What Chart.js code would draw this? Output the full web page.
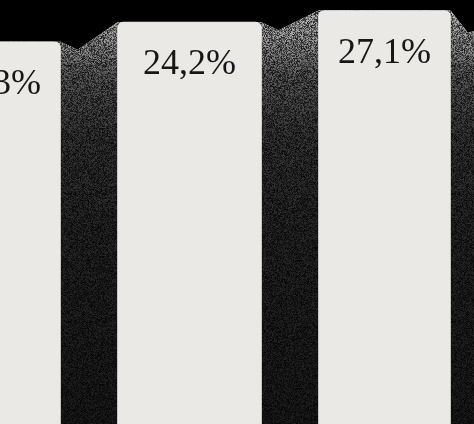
<!DOCTYPE html>
<html lang="pt-BR">
<head>
    <meta charset="UTF-8">
    <title>Gráfico de barras</title>
    <style>
        html, body { margin: 0; padding: 0; background: #000; overflow: hidden; width: 474px; height: 424px; }
        /* the picture is a crop: the chart is wider than the window and shifted left */
        #wrap { position: absolute; left: -103px; top: 0; width: 585px; height: 424px; }
    </style>
</head>
<body>
    <div id="wrap"><canvas id="barChart"></canvas></div>

    <script src="https://cdn.jsdelivr.net/npm/chart.js"></script>
    <script>
        // Dados
        const categories = ['1', '2', '3'];
        const values = [19.3, 24.2, 27.1];

        // Aparência
        const barWidths = [132, 144, 132];
        const Y_MIN = -76.25;
        const Y_MAX = 29.75;
        const barColor = '#ebe9e6';

        function fmt(v) {
            return v.toFixed(1).replace('.', ',') + '%';
        }

        // textura de ruído (determinística)
        function makeNoise() {
            const c = document.createElement('canvas');
            c.width = 128; c.height = 128;
            const g = c.getContext('2d');
            const img = g.createImageData(128, 128);
            let s = 12345;
            for (let i = 0; i < img.data.length; i += 4) {
                s = (s * 1103515245 + 12345) & 0x7fffffff;
                const n = 40 + (s >> 8) % 216;
                img.data[i] = img.data[i + 1] = img.data[i + 2] = n;
                img.data[i + 3] = 255;
            }
            g.putImageData(img, 0, 0);
            return c;
        }
        const noise = makeNoise();

        // brilho granulado entre as barras
        const glowPlugin = {
            id: 'glow',
            beforeDatasetsDraw(chart) {
                const ctx = chart.ctx;
                const area = chart.chartArea;
                const bars = [];
                chart.data.datasets.forEach((ds, i) => {
                    chart.getDatasetMeta(i).data.forEach((el, j) => {
                        if (ds.data[j] !== null) {
                            bars.push(el.getProps(['x', 'y', 'width'], true));
                        }
                    });
                });
                bars.sort((a, b) => a.x - b.x);

                ctx.save();
                ctx.beginPath();
                ctx.moveTo(area.left, area.bottom);
                bars.forEach((b, i) => {
                    const l = b.x - b.width / 2, r = b.x + b.width / 2;
                    ctx.lineTo(l, b.y);
                    ctx.lineTo(r, b.y);
                    const next = bars[i + 1];
                    const nl = next ? next.x - next.width / 2 : r + 57;
                    const ny = next ? next.y : b.y + 14;
                    ctx.lineTo(r + (nl - r) * 0.3, Math.max(b.y, ny) + 8);
                    ctx.lineTo(nl, ny);
                });
                ctx.lineTo(area.right, area.bottom);
                ctx.closePath();
                ctx.clip();

                const grad = ctx.createLinearGradient(0, area.top, 0, area.bottom);
                grad.addColorStop(0, '#d0d0d0');
                grad.addColorStop(0.08, '#b4b4b4');
                grad.addColorStop(0.18, '#646464');
                grad.addColorStop(0.32, '#3c3c3c');
                grad.addColorStop(0.55, '#2a2a2a');
                grad.addColorStop(1, '#1e1e1e');
                ctx.fillStyle = grad;
                ctx.fillRect(area.left, area.top, area.right - area.left, area.bottom - area.top);

                ctx.globalCompositeOperation = 'multiply';
                ctx.fillStyle = ctx.createPattern(noise, 'repeat');
                ctx.fillRect(area.left, area.top, area.right - area.left, area.bottom - area.top);
                ctx.restore();
            }
        };

        // rótulos de valor dentro das barras
        const labelPlugin = {
            id: 'valueLabels',
            afterDatasetsDraw(chart) {
                const ctx = chart.ctx;
                ctx.save();
                ctx.font = '36px "Liberation Serif", serif';
                ctx.fillStyle = '#161616';
                ctx.textAlign = 'center';
                ctx.textBaseline = 'alphabetic';
                chart.data.datasets.forEach((ds, i) => {
                    chart.getDatasetMeta(i).data.forEach((el, j) => {
                        if (ds.data[j] === null) return;
                        ctx.fillText(fmt(ds.data[j]), el.x, el.y + 52);
                    });
                });
                ctx.restore();
            }
        };

        // um conjunto de dados por barra para permitir larguras diferentes
        const datasets = values.map((v, i) => ({
            label: categories[i],
            data: categories.map((_, j) => (j === i ? v : null)),
            backgroundColor: barColor,
            borderWidth: 0,
            borderRadius: 6,
            barThickness: barWidths[i],
            grouped: false,
            base: Y_MIN
        }));

        new Chart(document.getElementById('barChart'), {
            type: 'bar',
            data: { labels: categories, datasets: datasets },
            options: {
                responsive: true,
                maintainAspectRatio: false,
                animation: false,
                layout: { padding: 0 },
                plugins: { legend: { display: false }, tooltip: { enabled: false } },
                scales: {
                    x: { display: false },
                    y: { display: false, min: Y_MIN, max: Y_MAX }
                }
            },
            plugins: [glowPlugin, labelPlugin]
        });
    </script>
</body>
</html>
